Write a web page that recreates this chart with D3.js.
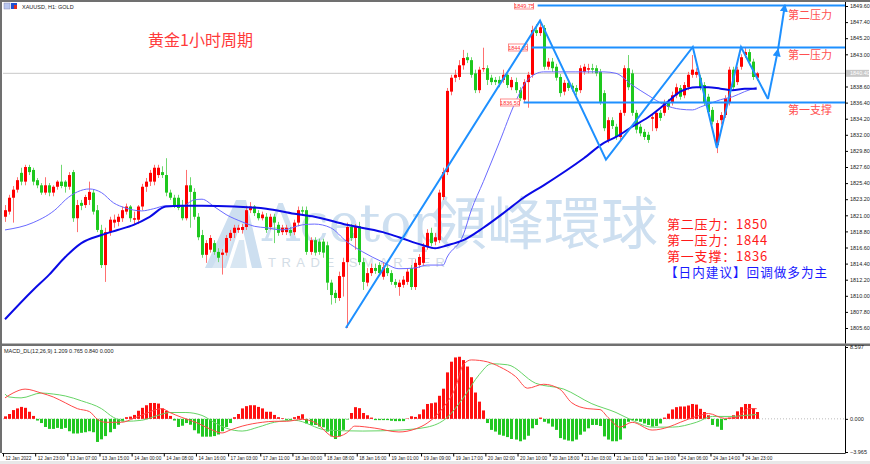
<!DOCTYPE html>
<html>
<head>
<meta charset="utf-8">
<script src="https://cdn.jsdelivr.net/npm/d3@7"></script>
<style>
body { margin: 0; background: #fff; }
svg { display: block; font-family: "Liberation Sans", "DejaVu Sans", sans-serif; }
</style>
</head>
<body>
<div class="chart"></div>
<script>
// XAUUSD H1 candles: [open, high, low, close]
var candles = [
[1820.8,1822.4,1820.1,1821.7],[1821.5,1823.8,1821.1,1823.4],[1823.4,1825.0,1820.0,1824.5],[1824.5,1826.2,1824.1,1825.8],
[1826.8,1827.5,1825.1,1825.6],[1825.6,1827.9,1825.1,1827.6],[1827.6,1827.9,1826.5,1826.9],[1827.2,1827.5,1825.1,1825.6],
[1825.8,1826.1,1824.7,1825.1],[1825.1,1825.4,1823.8,1824.1],[1824.1,1826.2,1823.8,1825.1],[1825.1,1825.4,1823.6,1824.1],
[1824.1,1825.1,1823.6,1824.9],[1824.9,1825.8,1824.5,1825.6],[1825.6,1827.9,1824.7,1825.0],[1825.6,1825.8,1824.1,1824.9],
[1824.9,1826.9,1824.5,1826.5],[1826.9,1827.2,1820.1,1820.6],[1820.6,1823.1,1818.7,1822.4],[1822.7,1823.1,1821.7,1822.3],
[1822.4,1823.8,1822.0,1823.5],[1823.1,1825.6,1822.4,1824.2],[1824.1,1824.5,1821.1,1821.5],[1821.7,1822.4,1818.7,1819.0],
[1819.0,1819.7,1813.8,1814.2],[1814.2,1819.3,1811.9,1818.7],[1818.7,1820.8,1818.2,1820.4],[1820.0,1821.1,1819.3,1820.4],
[1820.1,1821.2,1819.5,1820.8],[1820.6,1822.2,1820.1,1821.7],[1821.5,1822.6,1821.1,1822.2],[1822.2,1822.4,1820.1,1820.6],
[1820.4,1821.5,1819.8,1820.6],[1820.4,1822.4,1819.8,1822.2],[1822.2,1825.3,1821.7,1824.9],[1824.9,1826.1,1824.2,1825.6],
[1825.6,1827.2,1825.0,1826.8],[1825.6,1827.9,1825.1,1827.5],[1826.5,1827.9,1826.1,1827.5],[1826.9,1827.7,1826.1,1826.5],
[1826.5,1828.8,1823.6,1824.1],[1824.1,1824.5,1823.1,1823.4],[1823.4,1823.8,1822.0,1822.4],[1823.4,1823.8,1821.7,1822.0],
[1822.4,1823.1,1820.3,1820.6],[1820.6,1827.2,1820.3,1825.1],[1825.1,1826.2,1819.3,1824.2],[1824.2,1824.7,1820.4,1820.8],
[1820.8,1821.3,1817.6,1818.0],[1818.3,1819.0,1815.2,1815.6],[1815.6,1817.6,1814.5,1817.2],[1816.3,1818.3,1815.9,1817.9],
[1817.2,1817.6,1815.6,1816.0],[1816.0,1816.5,1814.6,1815.2],[1815.6,1816.4,1812.9,1815.9],[1815.9,1818.3,1815.5,1817.9],
[1817.9,1819.0,1817.5,1818.6],[1818.6,1819.7,1817.9,1819.3],[1819.0,1819.7,1818.6,1819.3],[1819.0,1819.8,1818.5,1819.4],
[1819.4,1822.3,1819.0,1821.7],[1821.7,1822.8,1821.3,1822.2],[1822.2,1822.4,1820.9,1821.3],[1821.3,1821.7,1820.3,1820.6],
[1820.6,1821.5,1820.3,1821.1],[1820.8,1821.3,1818.6,1819.0],[1819.4,1821.2,1819.0,1820.8],[1820.8,1821.2,1817.2,1820.0],
[1819.7,1820.1,1818.2,1818.6],[1818.7,1819.7,1818.3,1819.3],[1818.7,1819.7,1818.3,1819.3],[1819.0,1819.4,1818.2,1818.6],
[1818.7,1820.4,1818.3,1820.0],[1820.0,1822.2,1819.5,1821.7],[1821.7,1822.2,1821.1,1821.5],[1821.7,1822.2,1815.6,1816.0],
[1816.0,1818.0,1815.6,1817.6],[1817.6,1818.0,1815.5,1815.9],[1817.4,1817.8,1815.6,1816.0],[1817.4,1817.8,1815.2,1815.9],
[1816.9,1817.4,1810.8,1811.8],[1811.8,1812.2,1808.8,1810.1],[1810.4,1810.8,1809.0,1809.7],[1809.7,1813.3,1809.3,1812.7],
[1812.6,1815.2,1809.9,1814.6],[1814.6,1820.0,1805.6,1819.4],[1819.4,1819.8,1817.5,1817.9],[1817.9,1819.8,1816.3,1819.4],
[1819.5,1820.1,1814.2,1814.6],[1814.6,1815.2,1810.8,1811.9],[1811.8,1813.8,1811.3,1813.1],[1813.1,1814.4,1812.7,1813.8],
[1813.8,1814.4,1813.0,1813.4],[1814.2,1814.6,1812.7,1813.1],[1812.6,1814.5,1812.2,1813.9],[1813.8,1814.2,1812.7,1813.1],
[1813.1,1813.5,1811.5,1811.9],[1811.9,1812.3,1811.1,1811.5],[1811.2,1812.2,1810.0,1811.8],[1811.5,1812.7,1811.1,1812.2],
[1811.9,1813.8,1811.5,1813.3],[1813.8,1814.2,1810.8,1811.2],[1811.2,1815.0,1810.8,1814.5],[1814.2,1815.7,1813.8,1815.3],
[1814.5,1817.2,1814.1,1816.7],[1816.7,1819.1,1816.3,1818.6],[1818.6,1819.3,1816.8,1817.2],[1817.4,1818.6,1816.9,1818.0],
[1817.6,1824.5,1817.2,1824.1],[1823.5,1827.5,1823.1,1826.9],[1826.9,1838.4,1826.5,1838.0],[1837.9,1840.2,1837.4,1839.8],
[1839.8,1840.9,1839.2,1840.2],[1839.9,1842.2,1839.5,1841.5],[1841.5,1843.6,1840.9,1842.5],[1842.6,1843.2,1841.8,1842.2],
[1842.2,1842.6,1839.8,1840.2],[1840.4,1840.9,1837.7,1838.1],[1838.1,1841.3,1837.7,1840.9],[1841.0,1843.9,1840.6,1841.1],
[1841.1,1841.5,1838.8,1839.5],[1839.8,1840.2,1838.8,1839.2],[1839.5,1839.9,1838.8,1839.2],[1839.5,1840.0,1838.5,1839.0],
[1839.5,1840.9,1839.1,1840.2],[1840.2,1840.6,1838.4,1838.8],[1838.5,1839.9,1838.1,1839.5],[1839.2,1839.8,1837.7,1838.1],
[1838.1,1838.5,1836.6,1837.0],[1836.8,1839.6,1836.4,1839.2],[1839.2,1840.6,1835.7,1840.2],[1840.2,1846.9,1839.8,1846.3],
[1846.3,1847.1,1845.5,1845.9],[1845.9,1847.6,1845.5,1846.7],[1846.6,1847.0,1840.9,1841.3],[1841.3,1842.5,1840.9,1842.0],
[1842.0,1842.5,1840.6,1841.1],[1841.3,1841.7,1839.4,1839.8],[1839.9,1840.3,1837.2,1837.7],[1837.9,1839.5,1837.4,1839.1],
[1839.1,1839.5,1838.0,1838.4],[1838.7,1839.1,1837.9,1838.3],[1838.4,1838.8,1837.4,1837.9],[1838.1,1841.5,1837.7,1841.1],
[1840.6,1841.7,1840.2,1841.3],[1840.9,1841.7,1840.4,1841.1],[1841.1,1841.7,1840.4,1840.9],[1841.1,1841.5,1840.0,1840.4],
[1840.6,1841.0,1836.1,1836.5],[1837.7,1838.1,1832.5,1832.9],[1831.3,1834.4,1830.9,1834.0],[1834.0,1834.4,1832.8,1833.2],
[1833.1,1833.5,1831.3,1831.7],[1831.7,1835.4,1831.3,1835.0],[1835.0,1841.5,1834.6,1841.1],[1841.1,1842.9,1838.1,1838.5],
[1840.4,1840.9,1834.6,1835.0],[1835.0,1835.4,1832.2,1832.7],[1833.1,1833.5,1831.8,1832.2],[1832.4,1832.8,1831.3,1831.7],
[1832.0,1832.4,1830.9,1831.3],[1834.2,1834.8,1832.5,1834.4],[1832.9,1835.4,1832.5,1835.0],[1835.0,1835.4,1833.9,1834.3],
[1835.0,1836.8,1834.6,1836.4],[1836.5,1836.9,1835.4,1835.8],[1836.4,1837.9,1836.0,1837.4],[1837.4,1839.0,1837.0,1838.5],
[1838.4,1838.8,1836.8,1837.2],[1837.4,1839.2,1837.0,1838.8],[1838.5,1840.6,1838.1,1840.2],[1840.2,1842.9,1839.8,1840.9],
[1840.2,1841.1,1839.8,1840.6],[1839.8,1840.2,1838.1,1838.5],[1838.8,1839.2,1836.0,1836.4],[1837.2,1837.6,1834.7,1835.1],
[1835.4,1835.8,1833.4,1833.8],[1830.6,1834.0,1829.5,1833.6],[1834.0,1835.1,1833.4,1834.7],[1834.7,1837.4,1834.3,1837.0],
[1836.4,1841.3,1836.0,1840.9],[1840.9,1841.3,1838.1,1838.5],[1839.2,1841.3,1838.8,1840.9],[1841.3,1843.0,1840.9,1842.6],
[1842.9,1843.9,1842.5,1843.3],[1843.3,1843.7,1841.5,1842.0],[1842.0,1842.4,1839.5,1839.9],[1839.8,1840.6,1839.4,1840.4]
];

// moving averages as [bar index, price]
var fastMa = [[0,1819.0],[7,1820.0],[13,1822.0],[15,1823.1],[18,1824.2],[21,1824.6],[24,1824.1],[27,1822.7],[30,1822.0],
[34,1821.6],[37,1821.9],[40,1822.3],[44,1822.2],[47,1823.1],[49,1823.2],[52,1822.2],[55,1821.1],[59,1820.1],[62,1819.5],
[65,1819.3],[69,1819.0],[74,1819.7],[77,1819.8],[81,1819.3],[85,1817.4],[89,1816.0],[94,1814.6],[98,1813.7],[102,1813.8],
[105,1814.2],[109,1814.2],[110,1815.3],[114,1818.3],[116,1821.7],[119,1825.6],[123,1831.0],[127,1836.5],[130,1839.5],
[134,1840.6],[136,1840.6],[142,1840.6],[149,1840.6],[152,1840.4],[156,1838.8],[160,1837.4],[164,1836.1],[168,1835.5],
[171,1835.4],[173,1835.8],[176,1836.4],[178,1836.8],[181,1837.2],[184,1837.9],[187,1838.5]];
var slowMa = [[0,1806.8],[7,1810.8],[11,1812.9],[15,1815.3],[19,1817.2],[24,1818.3],[28,1819.0],[32,1819.7],[36,1820.8],
[40,1822.2],[44,1822.3],[49,1822.3],[57,1822.2],[65,1821.9],[72,1821.2],[77,1820.8],[85,1819.7],[94,1818.7],[98,1818.0],
[104,1816.9],[107,1816.5],[110,1816.9],[114,1817.6],[119,1819.3],[124,1821.3],[129,1823.4],[134,1825.1],[144,1828.8],
[149,1830.9],[152,1831.7],[156,1833.1],[160,1834.4],[164,1836.1],[168,1837.9],[172,1838.5],[175,1838.5],[178,1838.3],
[181,1838.1],[184,1838.3],[187,1838.3]];

// MACD histogram, one value per bar
var macdHist = [0.3,0.58,1.05,1.25,1.43,1.32,0.85,0.35,-0.2,-0.5,-0.97,-1.2,-1.2,-1.08,-1.2,-1.08,-1.48,-1.75,-1.75,-1.67,
-1.6,-1.48,-1.6,-2.76,-2.45,-2.06,-1.6,-1.2,-0.7,-0.31,0.2,0.27,0.47,0.97,1.32,1.63,1.9,1.9,1.83,1.25,
0.97,0.35,-0.2,-0.97,-0.82,-0.5,-0.7,-1.36,-1.75,-2.13,-2.13,-2.13,-2.06,-1.87,-1.48,-0.97,-0.5,0.2,0.58,1.25,
1.52,1.63,1.63,1.43,1.25,0.85,0.85,0.47,0.2,0.08,-0.12,-0.12,0.2,0.35,0.55,-0.55,-0.73,-0.73,-0.93,-1.01,
-1.52,-2.1,-2.41,-2.1,-1.32,-0.08,0.7,1.4,1.28,0.7,0.43,0.15,-0.15,-0.15,-0.15,-0.15,-0.23,-0.27,-0.27,-0.27,
0.05,0.31,0.23,0.55,1.13,1.78,1.87,1.95,2.76,3.61,5.56,6.84,7.35,7.43,7.03,6.26,4.98,3.15,2.06,1.01,
-0.5,-1.32,-1.52,-1.9,-2.02,-2.18,-2.41,-2.48,-2.68,-2.48,-2.02,-1.13,-0.73,0.15,-0.35,-0.55,-0.93,-1.32,-2.3,-2.48,
-2.6,-2.68,-2.48,-1.9,-1.52,-1.13,-0.73,-0.73,-0.85,-2.1,-2.48,-2.68,-2.68,-2.48,-1.13,-0.35,-0.15,-0.23,-0.35,-0.55,
-0.73,-0.93,-0.85,-0.55,0.15,0.62,1.13,1.4,1.48,1.48,1.6,1.78,1.71,1.2,0.82,0.43,-0.73,-0.93,-1.32,-0.15,
0.15,0.43,0.9,1.4,1.78,1.78,1.28,0.82];

// MACD main and signal lines as [bar index, value]
var macdLine = [[0,2.51],[2,3.09],[5,3.56],[9,3.09],[12,2.62],[15,1.92],[18,1.22],[21,0.87],[23,-0.06],[25,-0.41],[29,-0.41],
[32,0.06],[35,0.64],[39,1.22],[41,0.76],[44,0.17],[48,-0.52],[51,-1.22],[54,-1.69],[56,-1.34],[59,-0.87],[64,-0.41],
[67,-0.29],[70,-0.29],[74,-0.06],[77,-0.41],[82,-2.16],[85,-1.69],[87,-0.87],[92,-1.11],[98,-1.57],[102,-1.22],
[105,-0.52],[109,1.34],[112,3.67],[114,6.47],[116,7.05],[120,6.82],[123,6.24],[127,5.07],[130,3.67],[134,4.14],
[138,3.56],[141,1.92],[145,1.22],[148,1.11],[150,0.17],[153,-0.99],[156,-0.41],[161,-1.34],[165,-0.99],[168,-0.41],
[172,0.29],[175,0.64],[179,0.06],[182,0.17],[185,1.22],[187,1.22]];
var signalLine = [[0,2.97],[1,2.62],[4,2.51],[9,3.09],[12,2.97],[15,2.74],[19,2.16],[24,1.22],[27,0.17],[30,-0.29],
[34,-0.17],[38,0.41],[41,0.76],[45,0.76],[49,0.41],[52,-0.41],[55,-1.11],[59,-1.46],[63,-0.99],[67,-0.41],[72,-0.17],
[80,-1.34],[89,-1.46],[98,-1.34],[105,-0.99],[110,0.17],[114,2.51],[118,5.31],[121,6.59],[125,6.47],[132,4.26],
[139,3.56],[146,1.81],[152,0.76],[156,-0.17],[161,-0.99],[166,-0.99],[172,-0.41],[176,0.29],[181,0.29],[184,0.41],[187,0.52]];

// 1840.80 is hidden under the current price tag in the picture
var priceTicks = [1849.6,1847.4,1845.2,1843.0,1838.6,1836.4,1834.2,1832.0,1829.8,1827.6,1825.4,1823.2,
1821.0,1818.8,1816.6,1814.4,1812.2,1810.0,1807.8,1805.6];
var macdTicks = [8.597, 0, -3.965];
var timeLabels = ["12 Jan 2022","12 Jan 23:00","13 Jan 07:00","13 Jan 15:00","14 Jan 00:00","14 Jan 08:00",
"14 Jan 16:00","17 Jan 03:00","17 Jan 11:00","18 Jan 00:00","18 Jan 08:00","18 Jan 16:00","19 Jan 01:00",
"19 Jan 09:00","19 Jan 17:00","20 Jan 02:00","20 Jan 10:00","20 Jan 18:00","21 Jan 03:00","21 Jan 11:00",
"21 Jan 19:00","24 Jan 06:00","24 Jan 14:00","24 Jan 23:00"];

// drawn levels and the analyst's zigzag
var levelNames = ["第二压力", "第一压力", "第一支撑"];
var levelPrices = [1849.75, 1844.0, 1836.5];
var levelStart = [132.5, 131.0, 129.0];
var levelTags = ["1849.75", "1844.00", "1836.50"];
var zigzag = [[84.8,1805.6],[133.1,1847.6],[149.5,1828.6],[171.1,1844.0],[177.1,1830.2],[183.1,1844.0],[189.8,1836.9]];
var arrowUp = [[189.8,1836.9],[192.3,1843.6],[194.0,1849.7]];
var lastPrice = 1840.4;
var notes = ["第二压力：1850", "第一压力：1844", "第一支撑：1836"];
var advice = "【日内建议】回调做多为主";

var svgWidth = 870, svgHeight = 464;
var plotRight = 845;

var svg = d3.select(".chart").append("svg")
    .attr("width", svgWidth)
    .attr("height", svgHeight);

var defs = svg.append("defs");
defs.append("clipPath").attr("id", "mainClip")
    .append("rect").attr("x", 3).attr("y", 3).attr("width", plotRight - 3).attr("height", 340);
defs.append("clipPath").attr("id", "macdClip")
    .append("rect").attr("x", 3).attr("y", 347).attr("width", plotRight - 3).attr("height", 106);
defs.append("marker").attr("id", "arrow")
    .attr("viewBox", "0 0 10 10").attr("refX", 8).attr("refY", 5)
    .attr("markerWidth", 4).attr("markerHeight", 4).attr("orient", "auto")
    .append("path").attr("d", "M0,0L10,5L0,10z").attr("fill", "#1e90ff");

var x = d3.scaleLinear().domain([0, 187]).range([5, 756.7]);
var y = d3.scaleLinear().domain([1805.6, 1849.6]).range([328, 6]);
var yM = d3.scaleLinear().domain([-3.965, 8.597]).range([452, 347]);

// frame
svg.append("rect").attr("x", 0).attr("y", 0).attr("width", svgWidth).attr("height", svgHeight).attr("fill", "#fff");
svg.append("rect").attr("x", 0).attr("y", 461).attr("width", svgWidth).attr("height", 3).attr("fill", "#e8e8e8");

// watermark
var wm = svg.append("g").attr("fill", "#cddff0");
wm.append("path").attr("d", "M205,268L236,200L246,200L262,268L252,268L241,222L226,268Z");
wm.append("path").attr("d", "M212,268L231,232L236,232L222,268Z").attr("fill", "#d9e7f3");
wm.append("path").attr("d", "M230,268L239,240L244,240L247,268Z").attr("fill", "#d9e7f3");
wm.append("text").attr("x", 262).attr("y", 241)
    .style("font-family", "'DejaVu Serif', serif").style("font-size", "52px")
    .text("Acetop");
wm.append("text").attr("x", 430).attr("y", 244)
    .style("font-family", "'Noto Sans CJK TC', sans-serif").style("font-size", "57px")
    .text("領峰環球");
wm.append("text").attr("x", 268).attr("y", 267).attr("fill", "#d3dde6")
    .style("font-size", "13px").style("letter-spacing", "5.5px")
    .text("TRADE SMARTER");

var main = svg.append("g").attr("clip-path", "url(#mainClip)");

// last price line
main.append("line").attr("x1", 3).attr("x2", plotRight)
    .attr("y1", y(lastPrice)).attr("y2", y(lastPrice))
    .attr("stroke", "#c8c8c8").attr("stroke-width", 1);

// candles (red = up, green = down)
var bars = main.selectAll("g.bar").data(candles).enter().append("g").attr("class", "bar");
bars.append("line")
    .attr("x1", function(d, i) { return Math.round(x(i)) + 0.5; })
    .attr("x2", function(d, i) { return Math.round(x(i)) + 0.5; })
    .attr("y1", function(d) { return y(d[1]); })
    .attr("y2", function(d) { return y(d[2]); })
    .attr("stroke", function(d) { return d[3] >= d[0] ? "#ff7070" : "#6fd86f"; })
    .attr("stroke-width", 1);
bars.append("rect")
    .attr("x", function(d, i) { return Math.round(x(i)) - 1; })
    .attr("width", 3)
    .attr("y", function(d) { return y(Math.max(d[0], d[3])); })
    .attr("height", function(d) { return Math.max(1, Math.abs(y(d[0]) - y(d[3]))); })
    .attr("fill", function(d) { return d[3] >= d[0] ? "#ff0000" : "#1ec81e"; });

// moving averages
var maLine = d3.line()
    .x(function(d) { return x(d[0]); })
    .y(function(d) { return y(d[1]); })
    .curve(d3.curveMonotoneX);
main.append("path").datum(fastMa).attr("d", maLine)
    .attr("fill", "none").attr("stroke", "#6a6aff").attr("stroke-width", 1);
main.append("path").datum(slowMa).attr("d", maLine)
    .attr("fill", "none").attr("stroke", "#0a0ae6").attr("stroke-width", 2);

// support / resistance levels
levelPrices.forEach(function(p, k) {
    var ly = Math.round(y(p)) + 0.5;
    main.append("line").attr("x1", x(levelStart[k])).attr("x2", plotRight)
        .attr("y1", ly).attr("y2", ly)
        .attr("stroke", "#1e90ff").attr("stroke-width", 2);
    var tx = x(levelStart[k]) - 4;
    main.append("rect").attr("x", tx - 19).attr("y", ly - 3.5).attr("width", 19).attr("height", 7)
        .attr("fill", "#fff").attr("stroke", "#ff7070").attr("stroke-width", 0.8);
    main.append("text").attr("x", tx - 9.5).attr("y", ly + 2)
        .attr("text-anchor", "middle").attr("fill", "#ff3030")
        .style("font-size", "5.5px").text(levelTags[k]);
    main.append("text").attr("x", 788).attr("y", ly + 11 - (k === 0 ? -2 : 0))
        .attr("fill", "#ff5050")
        .style("font-family", "'Noto Sans CJK SC', sans-serif").style("font-size", "11px")
        .text(levelNames[k]);
});

// zigzag path
var zz = d3.line().x(function(d) { return x(d[0]); }).y(function(d) { return y(d[1]); });
main.append("path").datum(zigzag).attr("d", zz)
    .attr("fill", "none").attr("stroke", "#1e90ff").attr("stroke-width", 2).attr("stroke-linejoin", "miter");
for (var k = 0; k < arrowUp.length - 1; k++) {
    main.append("path").datum([arrowUp[k], arrowUp[k + 1]]).attr("d", zz)
        .attr("fill", "none").attr("stroke", "#1e90ff").attr("stroke-width", 2)
        .attr("marker-end", "url(#arrow)");
}

// title and notes
svg.append("text").attr("x", 148).attr("y", 46).attr("fill", "#ff3a3a")
    .style("font-family", "'Noto Sans CJK SC', sans-serif").style("font-size", "16px")
    .text("黄金1小时周期");
var noteText = svg.append("text").attr("y", 229)
    .style("font-family", "'Noto Sans CJK SC', sans-serif");
notes.forEach(function(t, k) {
    noteText.append("tspan").attr("x", 667).attr("dy", k === 0 ? 0 : 16)
        .attr("fill", "#ff1a1a").style("font-size", "13px").style("letter-spacing", "0.8px")
        .text(t);
});
noteText.append("tspan").attr("x", 665).attr("dy", 16)
    .attr("fill", "#1a1aff").style("font-size", "12.6px").style("letter-spacing", "1px")
    .text(advice);

// header
svg.append("rect").attr("x", 4).attr("y", 3).attr("width", 6).attr("height", 6).attr("fill", "#b9c7f0").attr("stroke", "#8a8ab0").attr("stroke-width", 0.5);
svg.append("rect").attr("x", 11).attr("y", 3).attr("width", 6).attr("height", 6).attr("fill", "#2050d0");
svg.append("rect").attr("x", 14).attr("y", 5).attr("width", 3).attr("height", 4).attr("fill", "#e03020");
svg.append("text").attr("x", 22).attr("y", 8.5).attr("fill", "#222")
    .style("font-size", "5.5px").text("XAUUSD, H1:  GOLD");

// MACD panel
var macd = svg.append("g").attr("clip-path", "url(#macdClip)");
macd.append("line").attr("x1", 3).attr("x2", plotRight).attr("y1", yM(0)).attr("y2", yM(0))
    .attr("stroke", "#bbb").attr("stroke-dasharray", "1,2");
macd.selectAll("rect.h").data(macdHist).enter().append("rect").attr("class", "h")
    .attr("x", function(d, i) { return Math.round(x(i)) - 1; })
    .attr("width", 3)
    .attr("y", function(d) { return d >= 0 ? yM(d) : yM(0); })
    .attr("height", function(d) { return Math.abs(yM(d) - yM(0)); })
    .attr("fill", function(d) { return d >= 0 ? "#ff1010" : "#22c822"; });
var mLine = d3.line()
    .x(function(d) { return x(d[0]); })
    .y(function(d) { return yM(d[1]); })
    .curve(d3.curveMonotoneX);
macd.append("path").datum(signalLine).attr("d", mLine)
    .attr("fill", "none").attr("stroke", "#66d466").attr("stroke-width", 1);
macd.append("path").datum(macdLine).attr("d", mLine)
    .attr("fill", "none").attr("stroke", "#ff4848").attr("stroke-width", 1);
svg.append("text").attr("x", 4).attr("y", 352.5).attr("fill", "#222")
    .style("font-size", "5.5px").text("MACD_DL(12,26,9) 1.209 0.765 0.840 0.000");

// borders
svg.append("rect").attr("x", 0).attr("y", 0).attr("width", svgWidth).attr("height", 2).attr("fill", "#707070");
svg.append("rect").attr("x", 0).attr("y", 0).attr("width", 2).attr("height", 453).attr("fill", "#707070");
svg.append("rect").attr("x", 0).attr("y", 343.5).attr("width", svgWidth).attr("height", 2.5).attr("fill", "#707070");
svg.append("line").attr("x1", 2).attr("x2", plotRight).attr("y1", 453.5).attr("y2", 453.5).attr("stroke", "#333");

// price axis
var priceAxis = svg.append("g").attr("transform", "translate(" + plotRight + ",0)")
    .call(d3.axisRight(y).tickValues(priceTicks).tickFormat(d3.format(".2f")).tickSize(3).tickSizeOuter(0));
priceAxis.select(".domain").attr("d", "M0.5,2V343.5");
var macdAxis = svg.append("g").attr("transform", "translate(" + plotRight + ",0)")
    .call(d3.axisRight(yM).tickValues(macdTicks).tickFormat(d3.format(".3f")).tickSize(3).tickSizeOuter(0));
macdAxis.select(".domain").attr("d", "M0.5,346V453.5");
svg.selectAll(".tick text").style("font-size", "5.5px").attr("x", 5).attr("fill", "#222");

// current price tag
svg.append("rect").attr("x", plotRight + 1).attr("y", y(lastPrice) - 3.5).attr("width", 23).attr("height", 7).attr("fill", "#c8c8c8");
svg.append("text").attr("x", plotRight + 5).attr("y", y(lastPrice) + 2).attr("fill", "#fff")
    .style("font-size", "5.5px").text(d3.format(".2f")(lastPrice));

// time axis
var timeAxis = svg.append("g").attr("transform", "translate(0,453.5)")
    .call(d3.axisBottom(x).tickValues(timeLabels.map(function(d, i) { return i * 8; }))
        .tickFormat(function(d, i) { return timeLabels[i]; }).tickSize(3).tickSizeOuter(0));
timeAxis.select(".domain").remove();
timeAxis.selectAll(".tick line").attr("transform", "translate(-2,0)");
timeAxis.selectAll(".tick text").attr("text-anchor", "start").attr("x", 0).attr("y", 3.5)
    .style("font-size", "4.7px").attr("fill", "#222");
</script>
</body>
</html>
